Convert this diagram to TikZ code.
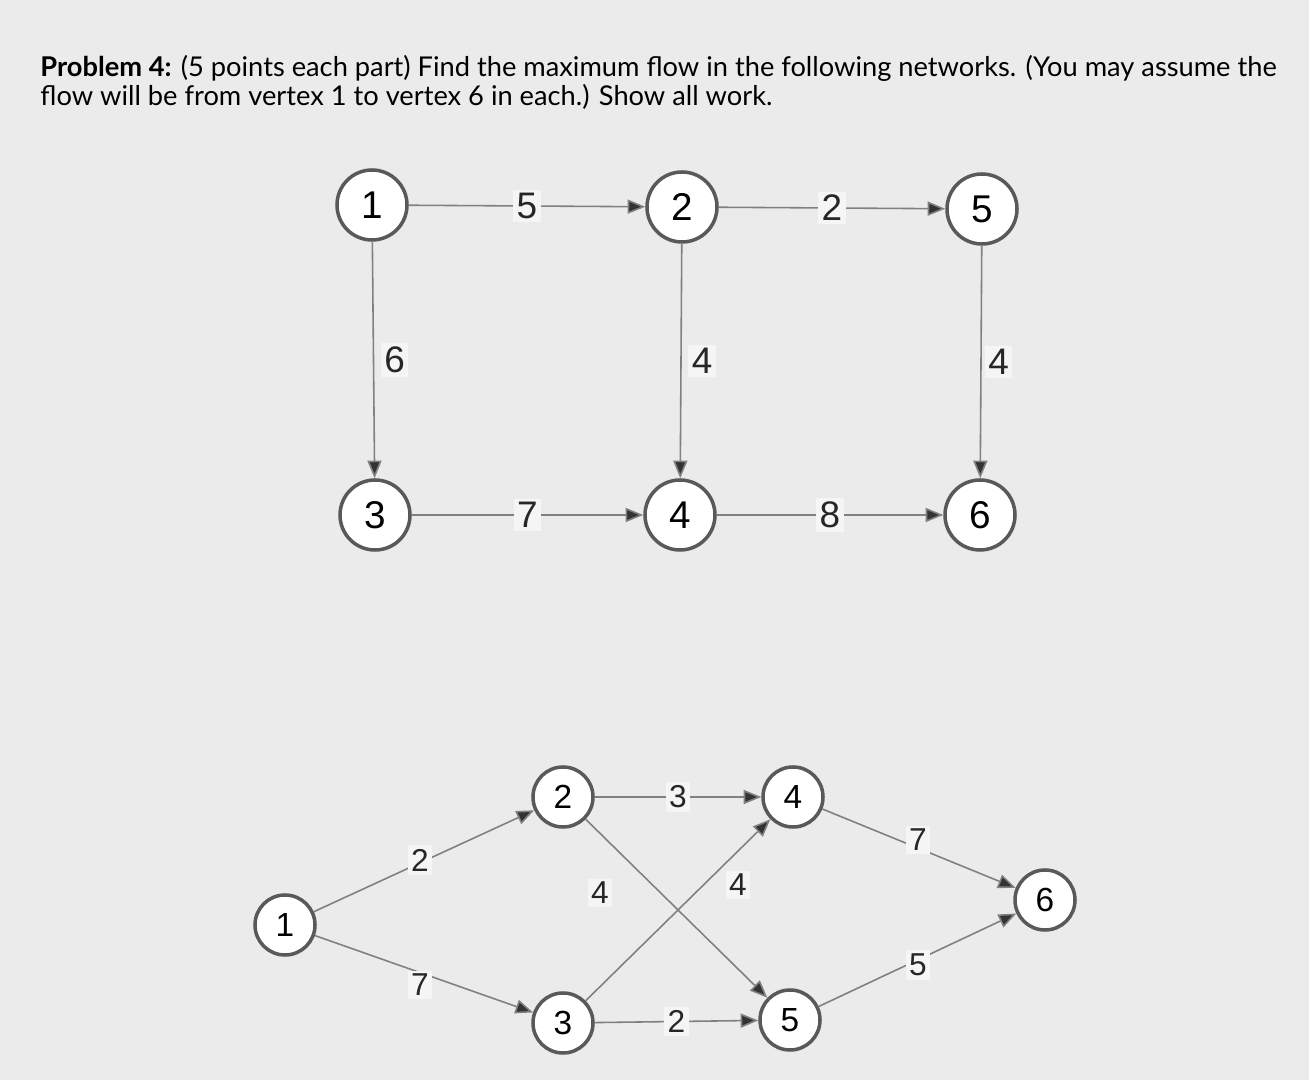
\documentclass[tikz,border=0pt]{standalone}
\usepackage{fontspec}
\setmainfont{Liberation Sans}
\newfontfamily\lato{Lato}
\usetikzlibrary{arrows.meta}
\begin{document}
\begin{tikzpicture}[x=0.01cm,y=-0.01cm,
  vbig/.style={circle,draw=black!65,line width=1pt,fill=white,minimum size=70*0.01cm,inner sep=0pt,font=\fontsize{11}{12}\selectfont},
  vsmall/.style={circle,draw=black!65,line width=1pt,fill=white,minimum size=60*0.01cm,inner sep=0pt,font=\fontsize{9.5}{10}\selectfont},
  edge/.style={draw=black!50,line width=0.45pt,-{Triangle[length=5pt,width=4pt,fill=black!80]}},
  lab/.style={fill=black!4,inner sep=1pt,font=\fontsize{10.5}{11}\selectfont,text=black!85},
  labs/.style={fill=black!4,inner sep=1pt,font=\fontsize{9}{10}\selectfont,text=black!85}]
\fill[black!8] (0,0) rectangle (1309,1080);
\useasboundingbox (0,0) rectangle (1309,1080);
\node[anchor=west,font=\lato\fontsize{7.75}{8.5}\selectfont] (t1) at (28,68) {\textbf{Problem 4:} (5 points each part) Find the maximum flow in the following networks. (You may assume the};
\node[anchor=west,font=\lato\fontsize{7.75}{8.5}\selectfont] (t2) at (28,97) {flow will be from vertex 1 to vertex 6 in each.) Show all work.};
% top graph
\node[vbig] (a1) at (372,205) {1};
\node[vbig] (a2) at (682,207) {2};
\node[vbig] (a5) at (982,209) {5};
\node[vbig] (a3) at (375,515) {3};
\node[vbig] (a4) at (680,515) {4};
\node[vbig] (a6) at (980,515) {6};
\draw[edge] (a1) -- node[lab]{5} (a2);
\draw[edge] (a2) -- node[lab]{2} (a5);
\draw[edge] (a1) -- node[lab,xshift=6pt]{6} (a3);
\draw[edge] (a2) -- node[lab,xshift=6pt]{4} (a4);
\draw[edge] (a5) -- node[lab,xshift=5pt]{4} (a6);
\draw[edge] (a3) -- node[lab]{7} (a4);
\draw[edge] (a4) -- node[lab]{8} (a6);
% bottom graph
\node[vsmall] (b1) at (285,925) {1};
\node[vsmall] (b2) at (563,797) {2};
\node[vsmall] (b4) at (793,797) {4};
\node[vsmall] (b6) at (1045,900) {6};
\node[vsmall] (b3) at (563,1023) {3};
\node[vsmall] (b5) at (790,1020) {5};
\draw[edge] (b1) -- (b2);
\draw[edge] (b1) -- (b3);
\draw[edge] (b2) -- node[labs]{3} (b4);
\draw[edge] (b2) -- (b5);
\draw[edge] (b3) -- (b4);
\draw[edge] (b3) -- node[labs]{2} (b5);
\draw[edge] (b4) -- (b6);
\draw[edge] (b5) -- (b6);
\node[labs] (l12) at (420,860) {2};
\node[labs] (l13) at (420,985) {7};
\node[labs] (l25) at (600,893) {4};
\node[labs] (l34) at (738,885) {4};
\node[labs] (l46) at (918,840) {7};
\node[labs] (l56) at (918,965) {5};
\end{tikzpicture}
\end{document}
